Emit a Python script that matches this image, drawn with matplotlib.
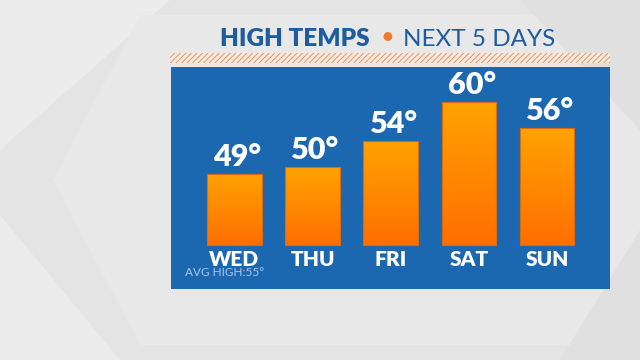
"""
High temps, next 5 days
"""

import numpy as np
import matplotlib.pyplot as plt
from matplotlib.patches import Rectangle, Polygon
from matplotlib.colors import LinearSegmentedColormap

# Data
days = ['WED', 'THU', 'FRI', 'SAT', 'SUN']
highs = [49, 50, 54, 60, 56]
avg_high = 55

# Colours
BLUE = '#1b68b0'
TITLE_BLUE = '#1d5c9e'
ORANGE = '#f07a2a'

plt.rcParams['font.family'] = ['Lato', 'DejaVu Sans']
plt.rcParams['hatch.linewidth'] = 0.7

fig = plt.figure(figsize=(6.4, 3.6), dpi=100)
fig.patch.set_facecolor('#e4e4e4')

# Background layer in pixel coordinates
bg = fig.add_axes([0, 0, 1, 1])
bg.set_xlim(0, 640)
bg.set_ylim(360, 0)
bg.axis('off')

# Faint diagonal shapes in the background
bg.add_patch(Polygon([(0, 0), (170, 0), (0, 150)], color='#ececec', lw=0))
bg.add_patch(Polygon([(140, 15), (53, 180), (140, 345), (640, 345), (640, 15)],
                     color='#e8e8e8', lw=0))
bg.add_patch(Polygon([(0, 215), (0, 360), (120, 360)], color='#ebebeb', lw=0))
bg.add_patch(Polygon([(520, 0), (640, 0), (640, 130)], color='#e0e0e0', lw=0))
bg.add_patch(Polygon([(640, 230), (560, 360), (640, 360)], color='#e0e0e0', lw=0))

# Hatched strip under the title
bg.add_patch(Rectangle((170, 53), 440, 10, facecolor='#f3ebe3',
                       edgecolor='#ee9355', hatch='//////', lw=0))

# Blue panel
bg.add_patch(Rectangle((171, 67), 439, 222, color=BLUE, lw=0))

# Title
bg.text(370, 46, 'HIGH TEMPS', color=TITLE_BLUE, fontsize=17.5,
        fontweight='heavy', ha='right', va='baseline')
bg.text(387, 44, '\u2022', color=ORANGE, fontsize=17, ha='center', va='baseline')
bg.text(403, 46, 'NEXT 5 DAYS', color=TITLE_BLUE, fontsize=17.5,
        ha='left', va='baseline')

bg.text(185, 276, f'AVG HIGH:{avg_high}\u00b0', color='#a9c9ea', fontsize=8.5,
        ha='left', va='baseline')

# Bar chart on top of the panel
ax = fig.add_axes([171 / 640, 1 - 289 / 360, 439 / 640, 222 / 360])
ax.set_facecolor('none')
ax.axis('off')
x = np.arange(len(days))
base = 38

bars = ax.bar(x, np.array(highs) - base, bottom=base, width=0.70,
              color='none', edgecolor='#d86a10', linewidth=0.8, zorder=3)

grad = np.linspace(0, 1, 100).reshape(-1, 1)
cmap = LinearSegmentedColormap.from_list('bar', ['#ff6f00', '#ffa200'])
for b in bars:
    x0, y0 = b.get_x(), b.get_y()
    im = ax.imshow(grad, cmap=cmap, aspect='auto', origin='lower',
                   extent=[x0, x0 + b.get_width(), y0, y0 + b.get_height()],
                   zorder=2)
    im.set_clip_path(b)

ax.set_xlim(-0.813, 4.807)
ax.set_ylim(31.3, 65.46)

for i, (d, h) in enumerate(zip(days, highs)):
    ax.annotate(f'{h}\u00b0', (i, h), xytext=(2, 6), textcoords='offset points',
                ha='center', va='baseline', color='white', fontsize=22,
                fontweight='heavy')
    ax.annotate(d, (i, base), xytext=(0, -14.5), textcoords='offset points',
                ha='center', va='baseline', color='white', fontsize=15,
                fontweight='heavy')

plt.savefig('out.png', dpi=100, facecolor=fig.get_facecolor())
